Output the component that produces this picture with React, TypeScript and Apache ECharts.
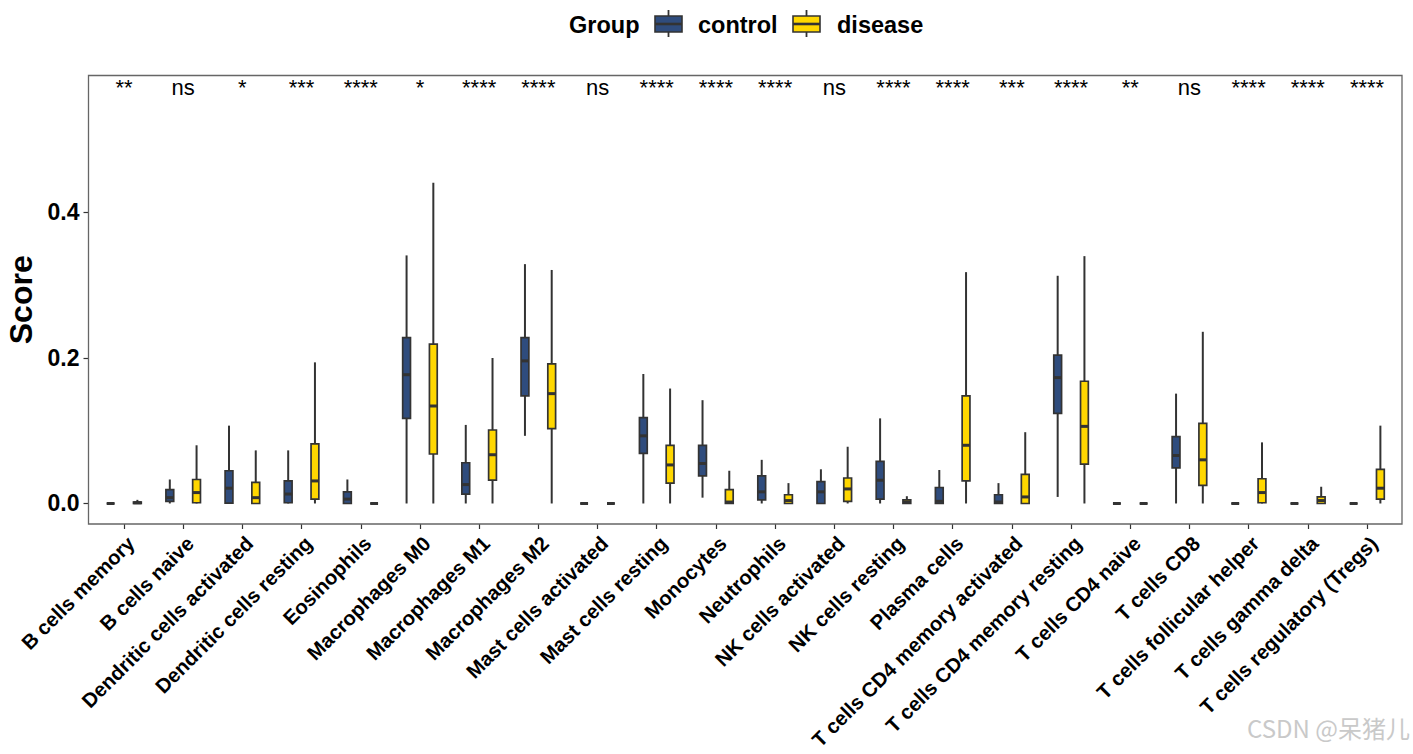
import React, { useEffect, useRef } from "react";
import * as echarts from "echarts";

const categories = [
  "B cells memory", "B cells naive", "Dendritic cells activated", "Dendritic cells resting",
  "Eosinophils", "Macrophages M0", "Macrophages M1", "Macrophages M2",
  "Mast cells activated", "Mast cells resting", "Monocytes", "Neutrophils",
  "NK cells activated", "NK cells resting", "Plasma cells", "T cells CD4 memory activated",
  "T cells CD4 memory resting", "T cells CD4 naive", "T cells CD8", "T cells follicular helper",
  "T cells gamma delta", "T cells regulatory (Tregs)",
];

const sigLabels = [
  "**", "ns", "*", "***", "****", "*", "****", "****", "ns", "****", "****",
  "****", "ns", "****", "****", "***", "****", "**", "ns", "****", "****", "****",
];

const groups = ["control", "disease"];
const groupColors = ["#2F4C7D", "#FFD700"];

// [min, Q1, median, Q3, max]
const controlStats = [
  [0, 0, 0, 0, 0.001],
  [0, 0.003, 0.008, 0.019, 0.033],
  [0, 0.0005, 0.021, 0.045, 0.107],
  [0, 0.001, 0.013, 0.031, 0.073],
  [0, 0, 0.006, 0.016, 0.033],
  [0, 0.117, 0.177, 0.228, 0.341],
  [0, 0.013, 0.026, 0.056, 0.108],
  [0.093, 0.148, 0.196, 0.228, 0.329],
  [0, 0, 0, 0, 0],
  [0, 0.069, 0.093, 0.118, 0.178],
  [0.008, 0.038, 0.055, 0.08, 0.142],
  [0, 0.005, 0.016, 0.038, 0.06],
  [0, 0, 0.016, 0.03, 0.047],
  [0, 0.006, 0.032, 0.058, 0.117],
  [0, 0, 0.003, 0.022, 0.046],
  [0, 0, 0.002, 0.012, 0.028],
  [0.009, 0.124, 0.173, 0.204, 0.313],
  [0, 0, 0, 0, 0],
  [0, 0.049, 0.066, 0.092, 0.151],
  [0, 0, 0, 0, 0],
  [0, 0, 0, 0, 0],
  [0, 0, 0, 0, 0],
];

const diseaseStats = [
  [0, 0, 0.001, 0.002, 0.005],
  [0, 0.001, 0.015, 0.033, 0.08],
  [0, 0, 0.008, 0.029, 0.073],
  [0, 0.006, 0.031, 0.082, 0.194],
  [0, 0, 0, 0, 0],
  [0, 0.068, 0.134, 0.219, 0.441],
  [0, 0.032, 0.067, 0.101, 0.2],
  [0, 0.103, 0.151, 0.192, 0.321],
  [0, 0, 0, 0, 0],
  [0, 0.028, 0.053, 0.08, 0.158],
  [0, 0, 0.002, 0.019, 0.045],
  [0, 0, 0.004, 0.012, 0.028],
  [0, 0.003, 0.02, 0.035, 0.078],
  [0, 0, 0.002, 0.005, 0.01],
  [0, 0.031, 0.08, 0.148, 0.318],
  [0, 0, 0.009, 0.04, 0.098],
  [0, 0.054, 0.106, 0.168, 0.34],
  [0, 0, 0, 0, 0],
  [0, 0.025, 0.06, 0.11, 0.236],
  [0, 0.001, 0.015, 0.034, 0.084],
  [0, 0, 0.004, 0.009, 0.023],
  [0, 0.006, 0.021, 0.047, 0.107],
];

const yTicks = [0, 0.2, 0.4];

const FONT = "'Liberation Sans', Arial, Helvetica, sans-serif";
const EDGE = "#333333";
const SIG_Y = 0.5718;

function makeBoxRender(sign: number, color: string) {
  return (params: any, api: any) => {
    const i = api.value(0);
    const band = api.size([1, 0])[0];
    const x = api.coord([i, 0])[0] + sign * band * 0.226;
    const w = 7.8;
    const yMin = api.coord([i, api.value(1)])[1];
    const yQ1 = api.coord([i, api.value(2)])[1];
    const yMed = api.coord([i, api.value(3)])[1];
    const yQ3 = api.coord([i, api.value(4)])[1];
    const yMax = api.coord([i, api.value(5)])[1];
    return {
      type: "group",
      children: [
        { type: "line", shape: { x1: x, y1: yMin, x2: x, y2: yMax }, style: { stroke: EDGE, lineWidth: 2 } },
        {
          type: "rect",
          shape: { x: x - w / 2, y: yQ3, width: w, height: Math.max(yQ1 - yQ3, 0) },
          style: { fill: color, stroke: EDGE, lineWidth: 1.7 },
        },
        { type: "line", shape: { x1: x - w / 2, y1: yMed, x2: x + w / 2, y2: yMed }, style: { stroke: EDGE, lineWidth: 3 } },
      ],
    };
  };
}

function legendIcon(x: number, color: string) {
  const w = 27;
  const cx = x + w / 2;
  return [
    { type: "line", silent: true, shape: { x1: cx, y1: 10, x2: cx, y2: 37 }, style: { stroke: EDGE, lineWidth: 1.8 } },
    { type: "rect", silent: true, shape: { x, y: 16, width: w, height: 16 }, style: { fill: color, stroke: EDGE, lineWidth: 1.6 } },
    { type: "line", silent: true, shape: { x1: x, y1: 24, x2: x + w, y2: 24 }, style: { stroke: EDGE, lineWidth: 2.6 } },
  ];
}

export default function App() {
  const ref = useRef<HTMLDivElement>(null);
  useEffect(() => {
    if (!ref.current) return;
    const chart = echarts.init(ref.current, undefined, { renderer: "svg" });
    const option: any = {
      animation: false,
      backgroundColor: "#ffffff",
      grid: { left: 94.4, top: 75.5, width: 1302.2, height: 448.5, outerBoundsMode: "none", containLabel: false },
      xAxis: {
        type: "category",
        data: categories,
        boundaryGap: true,
        axisLine: { show: false, onZero: false },
        axisTick: { show: true, alignWithLabel: true, length: 5, lineStyle: { color: EDGE, width: 1.2 } },
        axisLabel: {
          interval: 0,
          rotate: 45,
          fontSize: 20.3,
          fontWeight: "bold",
          color: "#000",
          fontFamily: FONT,
          margin: 9,
          align: "right",
          verticalAlign: "top",
        },
        splitLine: { show: false },
      },
      yAxis: {
        type: "value",
        min: -0.0282,
        max: 0.5883,
        offset: 5.9,
        axisLine: { show: false },
        splitLine: { show: false },
        axisTick: { show: true, length: 5, lineStyle: { color: EDGE, width: 1.2 }, customValues: yTicks },
        axisLabel: {
          customValues: yTicks,
          formatter: (v: number) => v.toFixed(1),
          fontSize: 23,
          fontWeight: "bold",
          color: "#000",
          fontFamily: FONT,
          margin: 9,
        },
        name: "Score",
        nameLocation: "middle",
        nameGap: 50,
        nameTextStyle: { fontSize: 32, fontWeight: "bold", color: "#000", fontFamily: FONT },
      },
      series: [
        {
          name: groups[0],
          type: "custom",
          renderItem: makeBoxRender(-1, groupColors[0]),
          encode: { x: 0, y: [1, 2, 3, 4, 5] },
          data: controlStats.map((s, i) => [i, ...s]),
          z: 3,
        },
        {
          name: groups[1],
          type: "custom",
          renderItem: makeBoxRender(1, groupColors[1]),
          encode: { x: 0, y: [1, 2, 3, 4, 5] },
          data: diseaseStats.map((s, i) => [i, ...s]),
          z: 3,
        },
        {
          name: "sig",
          type: "custom",
          renderItem: (params: any, api: any) => {
            const p = api.coord([api.value(0), SIG_Y]);
            return {
              type: "text",
              x: p[0],
              y: p[1],
              style: {
                text: sigLabels[params.dataIndex],
                fill: "#000",
                fontSize: 22,
                fontFamily: FONT,
                align: "center",
                verticalAlign: "middle",
              },
            };
          },
          encode: { x: 0, y: 1 },
          data: categories.map((_, i) => [i, SIG_Y]),
          z: 4,
        },
      ],
      graphic: [
        {
          type: "rect",
          silent: true,
          z: 10,
          shape: { x: 88.5, y: 75.5, width: 1313.5, height: 448.5 },
          style: { fill: "none", stroke: "#666", lineWidth: 1.3 },
        },
        {
          type: "text",
          x: 569,
          y: 25,
          style: { text: "Group", fill: "#000", fontSize: 23.5, fontWeight: "bold", fontFamily: FONT, verticalAlign: "middle" },
        },
        ...legendIcon(655, groupColors[0]),
        {
          type: "text",
          x: 698,
          y: 25,
          style: { text: groups[0], fill: "#000", fontSize: 23.5, fontWeight: "bold", fontFamily: FONT, verticalAlign: "middle" },
        },
        ...legendIcon(793, groupColors[1]),
        {
          type: "text",
          x: 837,
          y: 25,
          style: { text: groups[1], fill: "#000", fontSize: 23.5, fontWeight: "bold", fontFamily: FONT, verticalAlign: "middle" },
        },
        {
          type: "text",
          x: 1410,
          y: 727,
          style: {
            text: "CSDN @呆猪儿",
            fill: "#c9c9c9",
            fontSize: 24,
            fontFamily: "'Noto Sans CJK SC', 'Noto Sans', sans-serif",
            align: "right",
            verticalAlign: "middle",
          },
        },
      ],
    };
    chart.setOption(option);
    return () => chart.dispose();
  }, []);
  return (
    <div
      ref={ref}
      style={{ position: "fixed", left: 0, top: 0, width: 1413, height: 754, background: "#fff" }}
    />
  );
}
